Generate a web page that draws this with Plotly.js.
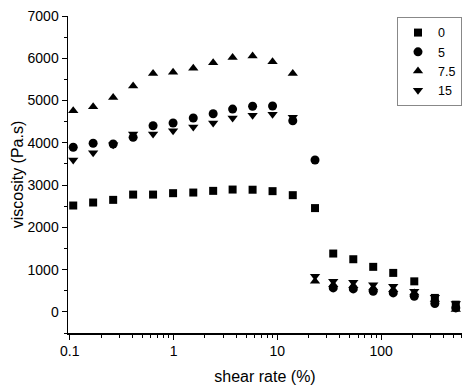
<!DOCTYPE html>
<html>
<head>
<meta charset="utf-8">
<script src="https://cdn.plot.ly/plotly-3.0.1.min.js"></script>
<style>html,body{margin:0;padding:0;background:#fff;}#chart{width:474px;height:387px;}</style>
</head>
<body>
<div id="chart"></div>
<script>
const shearRate = [0.108, 0.168, 0.262, 0.408, 0.635, 0.99, 1.55, 2.41, 3.71, 5.78, 9.0, 14.1, 23.1, 34.6, 54, 84, 131, 209, 330, 525];
const visc0   = [2516, 2587, 2650, 2775, 2775, 2808, 2823, 2863, 2894, 2890, 2856, 2761, 2455, 1380, 1245, 1065, 922, 722, 330, 170];
const visc5   = [3894, 3989, 3972, 4130, 4404, 4468, 4586, 4687, 4798, 4865, 4870, 4522, 3594, 566, 543, 487, 448, 368, 196, 94];
const visc7_5 = [4758, 4853, 5074, 5341, 5641, 5671, 5766, 5891, 6018, 6056, 5915, 5641, 722, 644, 620, 566, 526, 448, 290, 55];
const visc15  = [3594, 3767, 3956, 4208, 4208, 4286, 4373, 4468, 4586, 4650, 4673, 4602, 840, 723, 700, 644, 605, 487, 345, 196];
const seriesNames = ["0", "5", "7.5", "15"];
const xTickVals = [0.1, 1, 10, 100];
const xTickText = ["0.1", "1", "10", "100"];
const yTickVals = [0, 1000, 2000, 3000, 4000, 5000, 6000, 7000];

// minor log ticks at 2..9 of each decade (axis configuration)
const xMinorVals = [];
[0.1, 1, 10, 100].forEach(d => { for (let m = 2; m <= 9; m++) xMinorVals.push(+(m * d).toPrecision(3)); });

const symbols = ["square", "circle", "triangle-up", "triangle-down"];
const sizes = [8, 9, 9, 9];
const ys = [visc0, visc5, visc7_5, visc15];
const traces = ys.map((y, i) => ({
  x: shearRate, y: y, name: seriesNames[i], type: "scatter", mode: "markers",
  marker: {symbol: symbols[i], size: sizes[i], color: "#000"}
}));

const font = {family: "Liberation Sans, Arial, sans-serif", color: "#000"};
const layout = {
  width: 474, height: 387,
  margin: {l: 68, r: 12, t: 16, b: 54},
  paper_bgcolor: "#fff", plot_bgcolor: "#fff",
  font: Object.assign({size: 14}, font),
  showlegend: true,
  legend: {
    x: 0.835, y: 0.997, xanchor: "left", yanchor: "top",
    bordercolor: "#888", borderwidth: 1, bgcolor: "#fff",
    font: Object.assign({size: 12.5}, font),
    itemwidth: 30, tracegroupgap: 0
  },
  xaxis: {
    type: "log", range: [-1.017, 2.78],
    tickvals: xTickVals, ticktext: xTickText,
    ticks: "outside", ticklen: 5, tickwidth: 1, tickcolor: "#000",
    showline: true, linecolor: "#000", linewidth: 1.5,
    showgrid: false, zeroline: false, mirror: false,
    tickfont: Object.assign({size: 14}, font),
    minor: {tickvals: xMinorVals, ticks: "outside", ticklen: 3, tickcolor: "#000", showgrid: false},
    title: {text: "shear rate (%)", font: Object.assign({size: 16}, font), standoff: 12}
  },
  yaxis: {
    range: [-500, 7000],
    tickvals: yTickVals,
    ticks: "outside", ticklen: 5, tickwidth: 1, tickcolor: "#000",
    showline: true, linecolor: "#000", linewidth: 1.5,
    showgrid: false, zeroline: false, mirror: false,
    tickfont: Object.assign({size: 14}, font),
    minor: {dtick: 500, ticks: "outside", ticklen: 3, tickcolor: "#000", showgrid: false},
    title: {text: "viscosity (Pa.s)", font: Object.assign({size: 16}, font), standoff: 0}
  }
};
Plotly.newPlot("chart", traces, layout, {displayModeBar: false, staticPlot: true});
</script>
</body>
</html>
